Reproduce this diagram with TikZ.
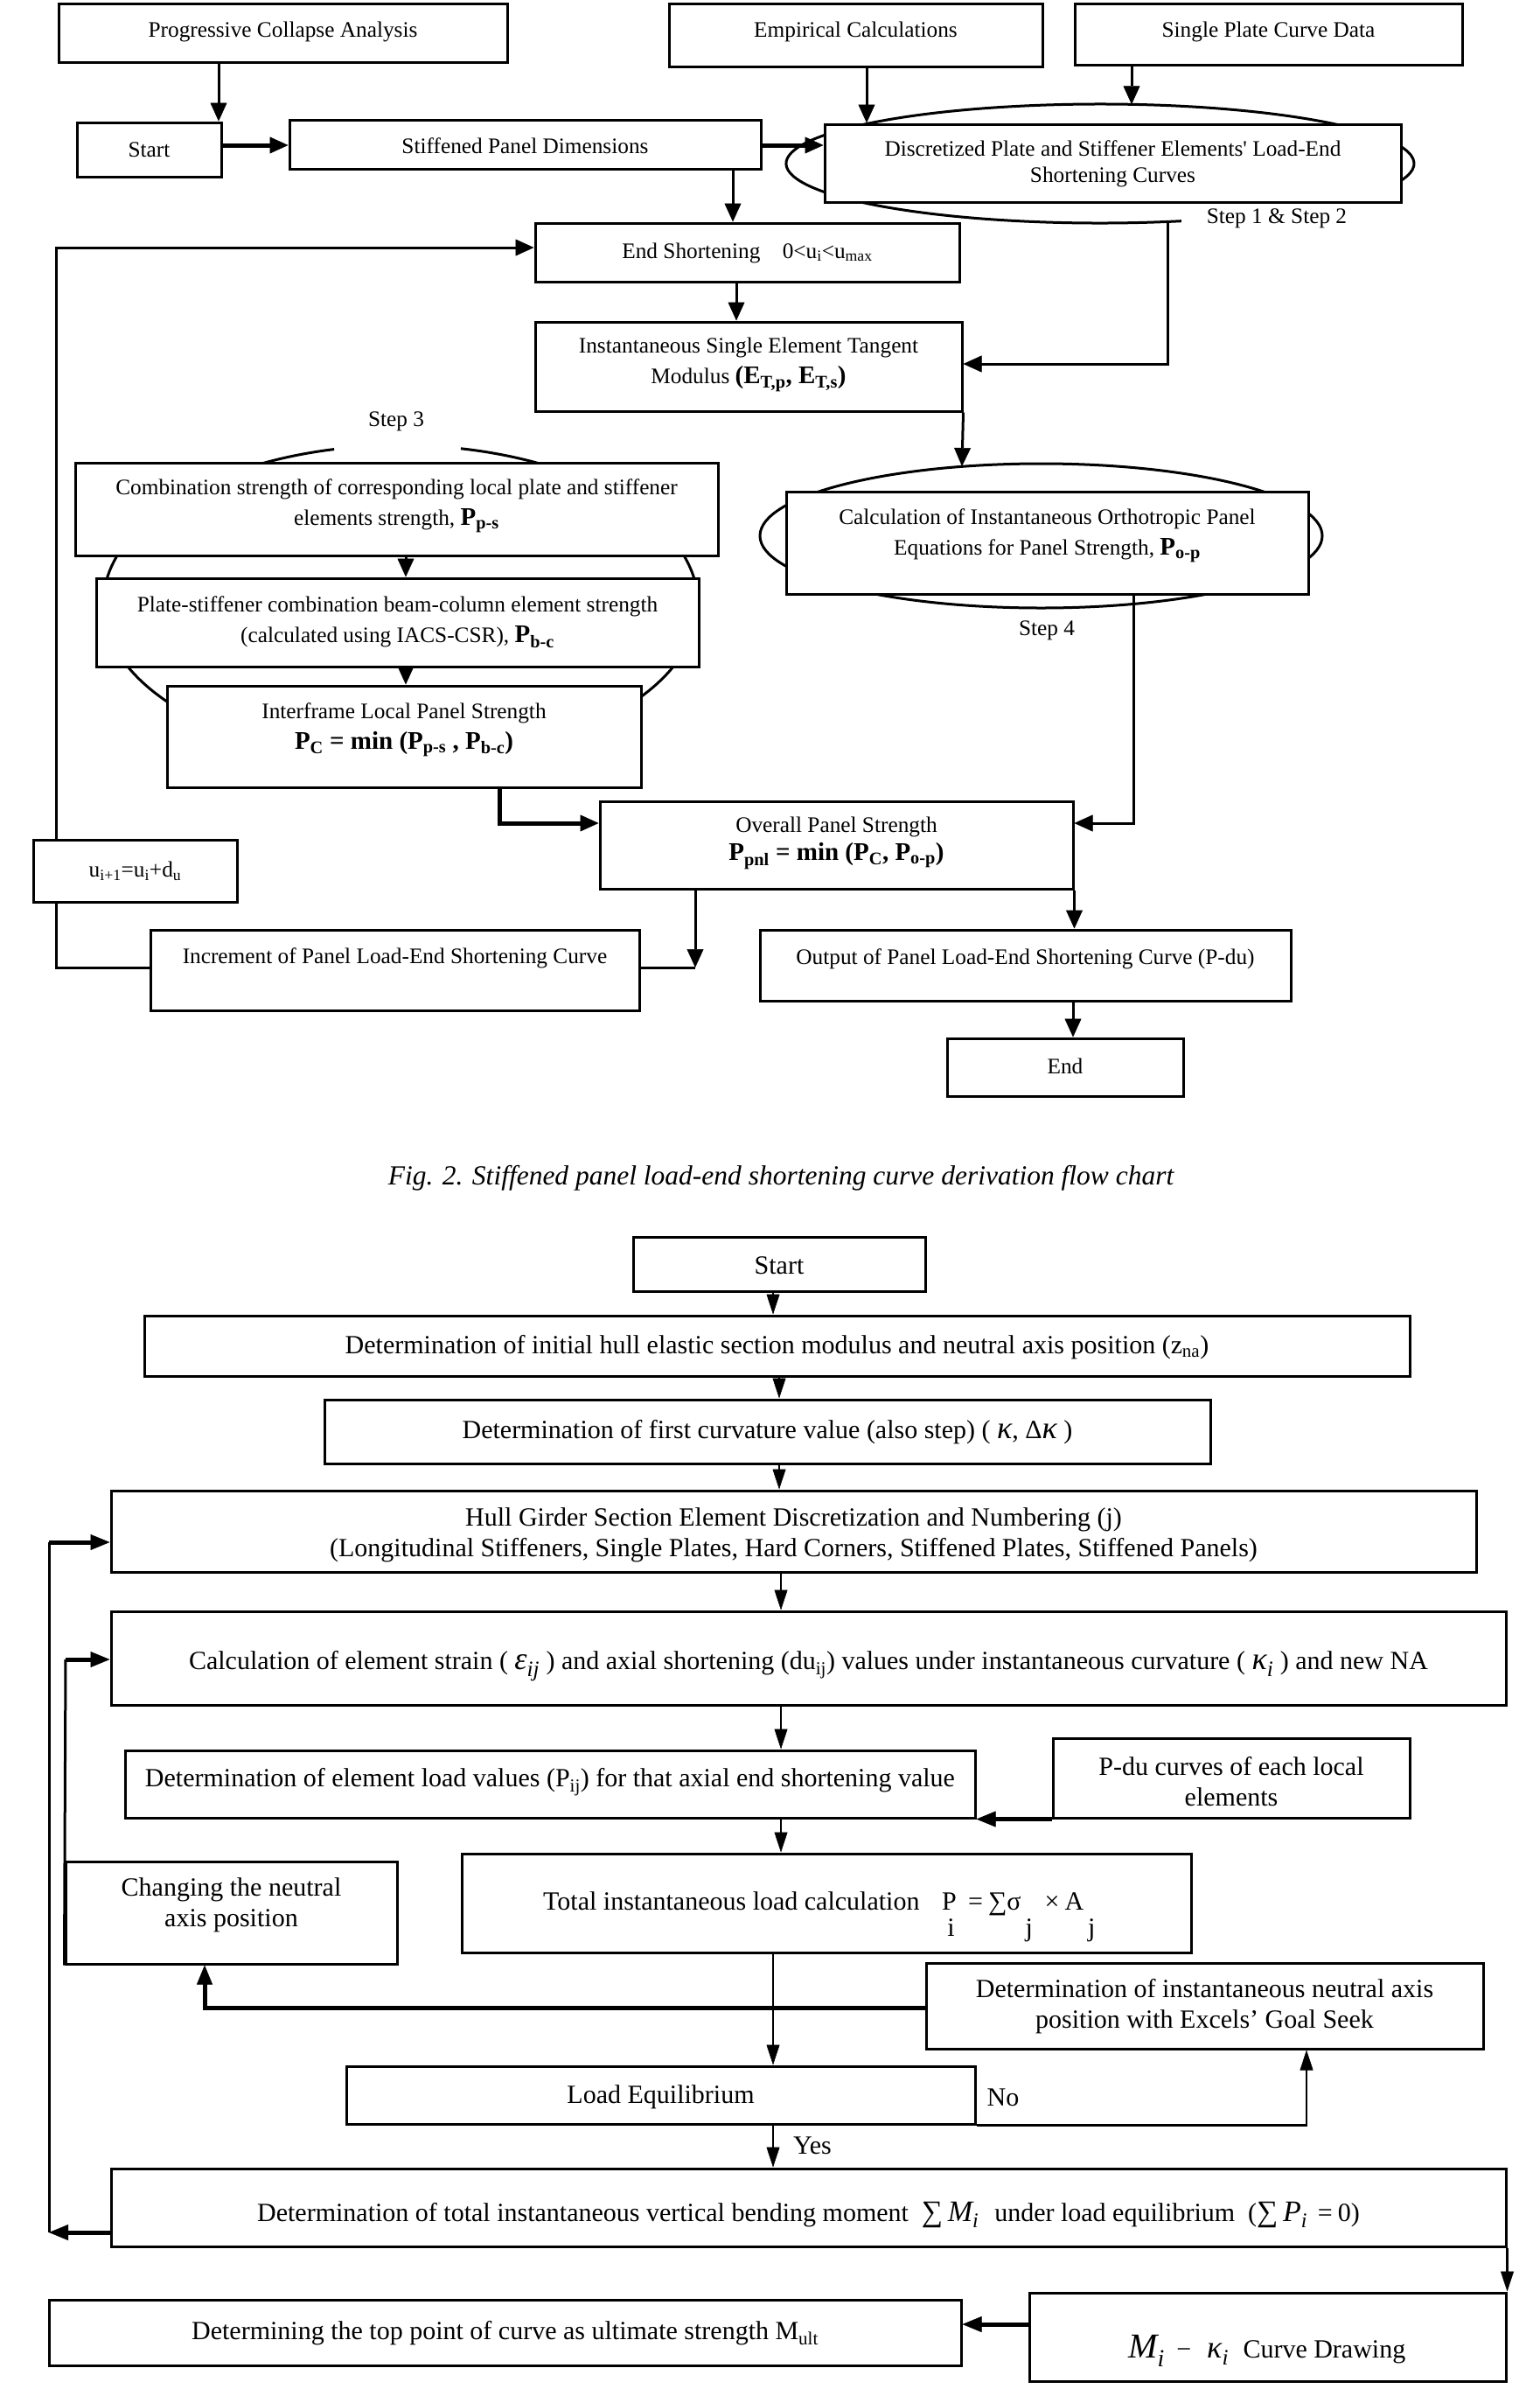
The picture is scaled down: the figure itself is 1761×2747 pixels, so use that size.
\documentclass[tikz,border=0pt]{standalone}
\usepackage{fontspec}
\setmainfont{Liberation Serif}
\usetikzlibrary{arrows.meta}
\newcommand\topfont{\fontsize{25.3}{30}\selectfont}
\newcommand\botfont{\fontsize{30}{35}\selectfont}
\newcommand\bigbf{\fontsize{29}{30}\selectfont\bfseries}
\newcommand\gk[1]{{\itshape\fontsize{36}{36}\selectfont #1}}
\newcommand\bx[7]{%
  \node[box,minimum width={(#4-#2)*1pt},minimum height={(#5-#3)*1pt}] (#1) at ({(#2+#4)/2},{(#3+#5)/2}) {};
  \node[txt] (#1T) at ({(#2+#4)/2},#6) {#7};}
\tikzset{
  box/.style={draw,line width=3pt,fill=white,inner sep=0pt},
  txt/.style={inner sep=0pt,align=center,font=\topfont},
  lbl/.style={inner sep=0pt},
  ln/.style={line width=3pt},
  ell/.style={line width=3pt},
  arr/.style={line width=3pt,-{Triangle[length=21pt,width=19pt,line width=0.5pt]}},
  arrT/.style={line width=5pt,-{Triangle[length=21pt,width=19pt,line width=0.5pt]}},
  arrb/.style={line width=2.5pt,-{Triangle[length=23pt,width=15pt,line width=0.5pt]}},
  arrbT/.style={line width=5pt,-{Triangle[length=22pt,width=18pt,line width=0.5pt]}},
}
\begin{document}
\begin{tikzpicture}[x=1pt,y=-1pt]
\fill[white] (0,0) rectangle (1761,2747);
\useasboundingbox (0,0) rectangle (1761,2747);

% ---------- ellipses (drawn first, boxes cover their insides) ----------
\draw[ell] ([shift={(75:359 and 68)}]1258,187) arc[start angle=75,end angle=400,x radius=359,y radius=68];
\draw[ell] ([shift={(281.7:340 and 181)}]458,690) arc[start angle=281.7,end angle=617.1,x radius=340,y radius=181];
\draw[ell] (1190.5,612.5) ellipse[x radius=321.5,y radius=82.5];

% ---------- top flow chart ----------
\bx{PCA}{67}{4}{580}{71}{36}{Progressive Collapse Analysis}
\bx{EMP}{765}{4}{1192}{76}{36}{Empirical Calculations}
\bx{SPC}{1229}{4}{1672}{74}{36}{Single Plate Curve Data}
\bx{START}{88}{140}{253}{202}{171}{Start}
\bx{SPD}{331}{137}{870}{193}{167}{Stiffened Panel Dimensions}
\bx{DPS}{943}{142}{1602}{231}{187}{Discretized Plate and Stiffener Elements\textquotesingle\ Load-End\\Shortening Curves}
\bx{ES}{612}{255}{1097}{322}{289}{End Shortening\quad 0<u\textsubscript{i}<u\textsubscript{max}}
\bx{ET}{612}{368}{1100}{470}{417}{Instantaneous Single Element Tangent\\[5pt]Modulus {\bigbf(E\textsubscript{T,p}, E\textsubscript{T,s})}}
\bx{COMB}{86}{529}{821}{635}{578}{Combination strength of corresponding local plate and stiffener\\[5pt]elements strength, {\bigbf P\textsubscript{p-s}}}
\bx{PS}{110}{661}{799}{762}{711}{Plate-stiffener combination beam-column element strength\\[5pt](calculated using IACS-CSR), {\bigbf P\textsubscript{b-c}}}
\bx{IF}{191}{784}{733}{900}{834}{Interframe Local Panel Strength\\[5pt]{\bigbf P\textsubscript{C} = min (P\textsubscript{p-s} , P\textsubscript{b-c})}}
\bx{ORTH}{899}{562}{1496}{679}{612}{Calculation of Instantaneous Orthotropic Panel\\[5pt]Equations for Panel Strength, {\bigbf P\textsubscript{o-p}}}
\bx{OPS}{686}{916}{1227}{1016}{964}{Overall Panel Strength\\[2pt]{\bigbf P\textsubscript{pnl} = min (P\textsubscript{C}, P\textsubscript{o-p})}}
\bx{UI}{38}{960}{271}{1031}{996}{u\textsubscript{i+1}=u\textsubscript{i}+d\textsubscript{u}}
\bx{INC}{172}{1063}{731}{1155}{1095}{Increment of Panel Load-End Shortening Curve}
\bx{OUT}{869}{1063}{1476}{1144}{1096}{Output of Panel Load-End Shortening Curve (P-du)}
\bx{END}{1083}{1187}{1353}{1253}{1219}{End}

\node[lbl,font=\topfont] (S12) at (1460,250) {Step 1 \& Step 2};
\node[lbl,font=\topfont] (S3) at (453,482) {Step 3};
\node[lbl,font=\topfont] (S4) at (1197,721) {Step 4};

\coordinate (E12top) at (1294,119.3);
\coordinate (E12bot) at (1335,253.4);
\coordinate (E4top) at (1100,533);
\coordinate (J1) at (795,1106);

\draw[arr] (PCA.south -| 250,0) -- (START.north -| 250,0);
\draw[arrT] (START.east |- 0,166) -- (SPD.west |- 0,166);
\draw[arrT] (SPD.east |- 0,166) -- (DPS.west |- 0,166);
\draw[arr] (SPD.south -| 838,0) -- (ES.north -| 838,0);
\draw[arr] (EMP.south -| 991,0) -- (DPS.north -| 991,0);
\draw[arr] (SPC.south -| 1294,0) -- (E12top);
\draw[arr] (E12bot) |- (ET.east |- 0,416);
\draw[arr] (ES.south -| 842,0) -- (ET.north -| 842,0);
\draw[arr] (ET.south east) -- (E4top);
\draw[arr] (ORTH.south -| 1296,0) |- (OPS.east |- 0,941);
\draw[arrT] (IF.south -| 571,0) |- (OPS.west |- 0,941);
\draw[arr] (COMB.south -| 464,0) -- (PS.north -| 464,0);
\draw[arr] (PS.south -| 464,0) -- (IF.north -| 464,0);
\draw[arr] (OPS.south east) -- (OUT.north -| OPS.south east);
\draw[arr] (OUT.south -| 1227,0) -- (END.north -| 1227,0);
\draw[arr] (OPS.south -| J1) -- (J1);
\draw[ln] (INC.east |- J1) -- (J1);
\draw[ln] (INC.west |- J1) -| (UI.south -| 64,0);
\draw[arr] (UI.north -| 64,0) |- (ES.west |- 0,283);

\node[inner sep=0pt,font=\fontsize{31.5}{36}\selectfont\itshape] (CAP) at (893,1347) {Fig. 2. Stiffened panel load-end shortening curve derivation flow chart};

% ---------- bottom flow chart ----------
\begin{scope}[txt/.style={inner sep=0pt,align=center,font=\botfont}]
\bx{B0}{724}{1414}{1058}{1476}{1447}{Start}
\bx{B1}{165}{1504}{1612}{1573}{1540}{Determination of initial hull elastic section modulus and neutral axis position (z\textsubscript{na})}
\bx{B2}{371}{1600}{1384}{1673}{1637}{Determination of first curvature value (also step) (\ \gk{κ}, Δ\gk{κ}\ )}
\bx{B3}{127}{1704}{1688}{1797}{1755}{Hull Girder Section Element Discretization and Numbering (j)\\(Longitudinal Stiffeners, Single Plates, Hard Corners, Stiffened Plates, Stiffened Panels)}
\bx{B4}{127}{1842}{1722}{1949}{1905}{Calculation of element strain ( \gk{ε\textsubscript{ij}} ) and axial shortening (du\textsubscript{ij}) values under instantaneous curvature ( \gk{κ\textsubscript{i}} ) and new NA}
\bx{B5}{143}{2001}{1115}{2078}{2037}{Determination of element load values (P\textsubscript{ij}) for that axial end shortening value}
\bx{B6}{1204}{1987}{1612}{2078}{2037}{P-du curves of each local\\elements}
\node[box,minimum width=834pt,minimum height=113pt] (B7) at (945,2175.5) {};
\node[inner sep=0pt,anchor=base west,font=\botfont] (B7T) at (621,2183) {Total instantaneous load calculation\hspace{0.85em}P\llap{\raisebox{-30pt}{i}\hspace{2pt}}\hspace{0.45em}=\hspace{0.2em}∑σ\rlap{\hspace{5pt}\raisebox{-30pt}{j}}\hspace{0.9em}×\hspace{0.2em}A\rlap{\hspace{5pt}\raisebox{-30pt}{j}}};
\bx{B9}{75}{2128}{454}{2245}{2178}{Changing the neutral\\axis position}
\bx{B10}{1059}{2244}{1696}{2342}{2294}{Determination of instantaneous neutral axis\\position with Excels’ Goal Seek}
\bx{B11}{396}{2362}{1115}{2428}{2397}{Load Equilibrium}
\bx{B8}{127}{2479}{1722}{2568}{2532}{Determination of total instantaneous vertical bending moment\hspace{0.5em}{\fontsize{34}{34}\selectfont∑\,\itshape M\textsubscript{i}}\hspace{0.6em}under load equilibrium\hspace{0.5em}({\fontsize{34}{34}\selectfont∑\,\itshape P\textsubscript{i}}\hspace{0.4em}=\hspace{0.2em}0)}
\node[box,minimum width=545pt,minimum height=101pt] (B12) at (1449.5,2671.5) {};
\node[inner sep=0pt,anchor=base west,font=\botfont] (B12T) at (1290,2695) {{\fontsize{40}{40}\selectfont\itshape M\textsubscript{i}}\hspace{0.45em}−\hspace{0.6em}{\fontsize{36}{36}\selectfont\itshape κ\textsubscript{i}}\hspace{0.55em}Curve Drawing};
\bx{B13}{56}{2629}{1099}{2704}{2667}{Determining the top point of curve as ultimate strength M\textsubscript{ult}}
\node[lbl,font=\botfont] (NO) at (1147,2398) {No};
\node[lbl,font=\botfont] (YES) at (929,2453) {Yes};
\end{scope}

\coordinate (L1) at (56,2552);
\coordinate (L2) at (56,1763);
\coordinate (L3) at (75,1897);

\draw[arrb] (B0.south -| 884,0) -- (B1.north -| 884,0);
\draw[arrb] (B1.south -| 891,0) -- (B2.north -| 891,0);
\draw[arrb] (B2.south -| 891,0) -- (B3.north -| 891,0);
\draw[arrb] (B3.south -| 893,0) -- (B4.north -| 893,0);
\draw[arrb] (B4.south -| 893,0) -- (B5.north -| 893,0);
\draw[arrbT] (B6.south west) -- (B5.south east);
\draw[arrb] (B5.south -| 893,0) -- (B7.north -| 893,0);
\draw[arrb] (B7.south -| 884,0) -- (B11.north -| 884,0);
\draw[arrbT] (B10.west |- 0,2295) -| (B9.south -| 234,0);
\draw[arrb] (B11.south east) -| (B10.south -| 1494,0);
\draw[arrb] (B11.south -| 884,0) -- (B8.north -| 884,0);
\draw[arrbT] (B8.west |- L1) -- (L1);
\draw[ln] (L1) -- (L2);
\draw[arrbT] (L2) -- (B3.west |- L2);
\draw[ln] (B9.south west) -- (L3);
\draw[arrbT] (L3) -- (B4.west |- L3);
\draw[arrb] (B8.south east) -- (B12.north east);
\draw[arrbT] (B12.west |- 0,2657) -- (B13.east |- 0,2657);
\end{tikzpicture}
\end{document}
